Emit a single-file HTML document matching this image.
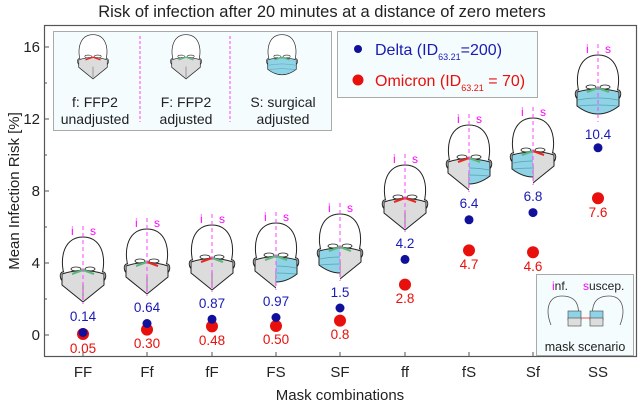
<!DOCTYPE html>
<html><head><meta charset="utf-8"><style>
html,body{margin:0;padding:0;background:#fff}
svg{display:block;font-family:"Liberation Sans",sans-serif}
</style></head><body>
<svg width="640" height="407" viewBox="0 0 640 407" xmlns="http://www.w3.org/2000/svg">
<defs>
<clipPath id="cL"><rect x="-30" y="-5" width="30" height="80"/></clipPath>
<clipPath id="cR"><rect x="0" y="-5" width="30" height="80"/></clipPath>
<g id="head">
<path d="M-17,44 C-24,28 -22,1 0,1 C22,1 24,28 17,44" fill="#fff" stroke="#222" stroke-width="1"/>
<path d="M-19,36 C-24,35 -24,44 -19,46 M19,36 C24,35 24,44 19,46" fill="#fff" stroke="#222" stroke-width="1"/>
<ellipse cx="-7" cy="33" rx="5" ry="2" fill="#fff" stroke="#222" stroke-width="0.8"/>
<ellipse cx="7" cy="33" rx="5" ry="2" fill="#fff" stroke="#222" stroke-width="0.8"/>
</g>
<g id="mF"><path d="M-21,38 Q0,31 21,38 L21,49 L0,66 L-21,49 Z" fill="#dcdcdc" stroke="#222" stroke-width="1"/><line x1="0" y1="48" x2="0" y2="64" stroke="#888" stroke-width="1.2"/></g>
<g id="mS"><path d="M-21,38 Q0,32 21,38 L21,52 Q0,68 -21,52 Z" fill="#8fd3e6" stroke="#222" stroke-width="1"/><path d="M-20,46 Q0,42 20,46 M-20,52 Q0,50 20,52" fill="none" stroke="#5a9fb3" stroke-width="0.7"/></g>
<path id="wG" d="M-11,38 L0,34 L11,38" fill="none" stroke="#5cb87a" stroke-width="2"/>
<path id="wR" d="M-11,38 L0,34 L11,38" fill="none" stroke="#e8281e" stroke-width="2"/>
</defs>

<text x="322" y="17" font-size="16.5" text-anchor="middle" fill="#222">Risk of infection after 20 minutes at a distance of zero meters</text>
<rect x="44.5" y="25.5" width="592" height="331" fill="none" stroke="#555" stroke-width="1.2"/>
<g stroke="#555" stroke-width="1">
<line x1="44" y1="335" x2="49" y2="335"/><line x1="44" y1="299" x2="47" y2="299"/><line x1="44" y1="263" x2="49" y2="263"/><line x1="44" y1="227" x2="47" y2="227"/><line x1="44" y1="191" x2="49" y2="191"/><line x1="44" y1="155" x2="47" y2="155"/><line x1="44" y1="119" x2="49" y2="119"/><line x1="44" y1="83" x2="47" y2="83"/><line x1="44" y1="47" x2="49" y2="47"/>
</g>
<g font-size="15" text-anchor="end" fill="#222">
<text x="40" y="340">0</text><text x="40" y="268">4</text><text x="40" y="196">8</text><text x="40" y="124">12</text><text x="40" y="52">16</text>
</g>
<text transform="translate(19,191) rotate(-90)" font-size="15" text-anchor="middle" fill="#222">Mean Infection Risk  [%]</text>
<g stroke="#555"><line x1="83" y1="357" x2="83" y2="352"/><line x1="147" y1="357" x2="147" y2="352"/><line x1="212" y1="357" x2="212" y2="352"/><line x1="276" y1="357" x2="276" y2="352"/><line x1="340" y1="357" x2="340" y2="352"/><line x1="405" y1="357" x2="405" y2="352"/><line x1="469" y1="357" x2="469" y2="352"/><line x1="533" y1="357" x2="533" y2="352"/><line x1="598" y1="357" x2="598" y2="352"/></g>
<g font-size="15" text-anchor="middle" fill="#222">
<text x="83" y="377">FF</text><text x="147" y="377">Ff</text><text x="212" y="377">fF</text><text x="276" y="377">FS</text><text x="340" y="377">SF</text><text x="405" y="377">ff</text><text x="469" y="377">fS</text><text x="533" y="377">Sf</text><text x="598" y="377">SS</text>
</g>
<text x="340" y="400" font-size="15" text-anchor="middle" fill="#222">Mask combinations</text>

<!-- faces: translate(cx, top) -->
<g font-size="12" fill="#f0f">
<g transform="translate(83,236)"><use href="#head"/><use href="#mF"/><use href="#wG"/><line x1="0" y1="-10" x2="0" y2="68" stroke="#f4f" stroke-dasharray="4,3"/><text x="-12" y="-1">i</text><text x="7" y="-1">s</text></g>
<g transform="translate(147,228)"><use href="#head"/><use href="#mF"/><g clip-path="url(#cL)"><use href="#wG"/></g><g clip-path="url(#cR)"><use href="#wR"/></g><line x1="0" y1="-10" x2="0" y2="68" stroke="#f4f" stroke-dasharray="4,3"/><text x="-12" y="-1">i</text><text x="7" y="-1">s</text></g>
<g transform="translate(212,224)"><use href="#head"/><use href="#mF"/><g clip-path="url(#cL)"><use href="#wR"/></g><g clip-path="url(#cR)"><use href="#wG"/></g><line x1="0" y1="-10" x2="0" y2="68" stroke="#f4f" stroke-dasharray="4,3"/><text x="-12" y="-1">i</text><text x="7" y="-1">s</text></g>
<g transform="translate(276,222)"><use href="#head"/><g clip-path="url(#cL)"><use href="#mF"/></g><g clip-path="url(#cR)"><use href="#mS"/></g><use href="#wG"/><line x1="0" y1="-10" x2="0" y2="68" stroke="#f4f" stroke-dasharray="4,3"/><text x="-12" y="-1">i</text><text x="7" y="-1">s</text></g>
<g transform="translate(340,213)"><use href="#head"/><g clip-path="url(#cL)"><use href="#mS"/></g><g clip-path="url(#cR)"><use href="#mF"/></g><use href="#wG"/><line x1="0" y1="-10" x2="0" y2="68" stroke="#f4f" stroke-dasharray="4,3"/><text x="-12" y="-1">i</text><text x="7" y="-1">s</text></g>
<g transform="translate(405,164)"><use href="#head"/><use href="#mF"/><use href="#wR"/><line x1="0" y1="-10" x2="0" y2="68" stroke="#f4f" stroke-dasharray="4,3"/><text x="-12" y="-1">i</text><text x="7" y="-1">s</text></g>
<g transform="translate(469,124)"><use href="#head"/><g clip-path="url(#cL)"><use href="#mF"/><use href="#wR"/></g><g clip-path="url(#cR)"><use href="#mS"/><use href="#wG"/></g><line x1="0" y1="-10" x2="0" y2="68" stroke="#f4f" stroke-dasharray="4,3"/><text x="-12" y="-1">i</text><text x="7" y="-1">s</text></g>
<g transform="translate(533,117)"><use href="#head"/><g clip-path="url(#cL)"><use href="#mS"/><use href="#wG"/></g><g clip-path="url(#cR)"><use href="#mF"/><use href="#wR"/></g><line x1="0" y1="-10" x2="0" y2="68" stroke="#f4f" stroke-dasharray="4,3"/><text x="-12" y="-1">i</text><text x="7" y="-1">s</text></g>
<g transform="translate(598,54)"><use href="#head"/><use href="#mS"/><use href="#wG"/><line x1="0" y1="-10" x2="0" y2="68" stroke="#f4f" stroke-dasharray="4,3"/><text x="-12" y="-1">i</text><text x="7" y="-1">s</text></g>
</g>

<!-- markers -->
<g fill="#e8100c">
<circle cx="83" cy="334" r="6"/><circle cx="147" cy="329.6" r="6"/><circle cx="212" cy="326.4" r="6"/><circle cx="276" cy="326" r="6"/><circle cx="340" cy="320.6" r="6"/><circle cx="405" cy="284.6" r="6"/><circle cx="469" cy="250.4" r="6"/><circle cx="533" cy="252.2" r="6"/><circle cx="598" cy="198.2" r="6"/>
</g>
<g fill="#10109a">
<circle cx="83" cy="332.5" r="4.5"/><circle cx="147" cy="323.5" r="4.5"/><circle cx="212" cy="319.3" r="4.5"/><circle cx="276" cy="317.5" r="4.5"/><circle cx="340" cy="308" r="4.5"/><circle cx="405" cy="259.4" r="4.5"/><circle cx="469" cy="219.8" r="4.5"/><circle cx="533" cy="212.6" r="4.5"/><circle cx="598" cy="147.8" r="4.5"/>
</g>
<g font-size="13.5" text-anchor="middle" fill="#1a1ab4">
<text x="83" y="321">0.14</text><text x="147" y="312">0.64</text><text x="212" y="308">0.87</text><text x="276" y="306">0.97</text><text x="340" y="297">1.5</text><text x="405" y="248">4.2</text><text x="469" y="208">6.4</text><text x="533" y="201">6.8</text><text x="598" y="139">10.4</text>
</g>
<g font-size="13.5" text-anchor="middle" fill="#e8100c">
<text x="83" y="353">0.05</text><text x="147" y="348">0.30</text><text x="212" y="345">0.48</text><text x="276" y="344">0.50</text><text x="340" y="339">0.8</text><text x="405" y="303">2.8</text><text x="469" y="269">4.7</text><text x="533" y="271">4.6</text><text x="598" y="217">7.6</text>
</g>

<!-- left info box -->
<rect x="53.5" y="31.5" width="278" height="99" fill="#f4fcfd" stroke="#aaa"/>
<line x1="140" y1="36" x2="140" y2="122" stroke="#f4f" stroke-dasharray="3,2"/>
<line x1="230" y1="36" x2="230" y2="122" stroke="#f4f" stroke-dasharray="3,2"/>
<g transform="translate(93,34) scale(0.68)"><use href="#head"/><use href="#mF"/><use href="#wR"/></g>
<g transform="translate(186,34) scale(0.68)"><use href="#head"/><use href="#mF"/><use href="#wG"/></g>
<g transform="translate(282,34) scale(0.68)"><use href="#head"/><use href="#mS"/><use href="#wG"/></g>
<g font-size="14" text-anchor="middle" fill="#222">
<text x="95" y="107">f: FFP2</text><text x="95" y="124">unadjusted</text>
<text x="186" y="107">F: FFP2</text><text x="186" y="124">adjusted</text>
<text x="283" y="107">S: surgical</text><text x="283" y="124">adjusted</text>
</g>

<!-- legend -->
<rect x="337.5" y="31.5" width="200" height="66" fill="#f4fcfd" stroke="#aaa"/>
<circle cx="358" cy="49" r="4" fill="#10109a"/>
<circle cx="358" cy="80" r="5.5" fill="#e8100c"/>
<text x="375" y="55" font-size="16" fill="#1a1ab4">Delta (ID<tspan font-size="9" dy="5">63.21</tspan><tspan dy="-5">=200)</tspan></text>
<text x="375" y="86" font-size="16" fill="#e8100c">Omicron (ID<tspan font-size="9" dy="5">63.21</tspan><tspan dy="-5"> = 70)</tspan></text>

<!-- inset -->
<rect x="536.5" y="274.5" width="97" height="81" fill="#f4fcfd" stroke="#aaa"/>
<text x="552" y="290" font-size="12" fill="#222"><tspan fill="#f0f">i</tspan>nf.</text>
<text x="583" y="290" font-size="12" fill="#222"><tspan fill="#f0f">s</tspan>uscep.</text>
<g fill="none" stroke="#555" stroke-width="0.8">
<path d="M551,325 C545,310 548,296 562,296 C576,296 580,305 578,318"/>
<path d="M620,325 C626,310 623,296 609,296 C595,296 591,305 593,318"/>
</g>
<rect x="568" y="311" width="13" height="9" fill="#8fd3e6" stroke="#444" stroke-width="0.6"/>
<rect x="568" y="318" width="13" height="8" fill="#ddd" stroke="#444" stroke-width="0.6"/>
<rect x="590" y="311" width="13" height="9" fill="#8fd3e6" stroke="#444" stroke-width="0.6"/>
<rect x="590" y="318" width="13" height="8" fill="#ddd" stroke="#444" stroke-width="0.6"/>
<line x1="581" y1="318" x2="590" y2="318" stroke="#e8281e" stroke-width="0.8"/>
<text x="585" y="351" font-size="12.5" text-anchor="middle" fill="#222">mask scenario</text>
</svg>
</body></html>
